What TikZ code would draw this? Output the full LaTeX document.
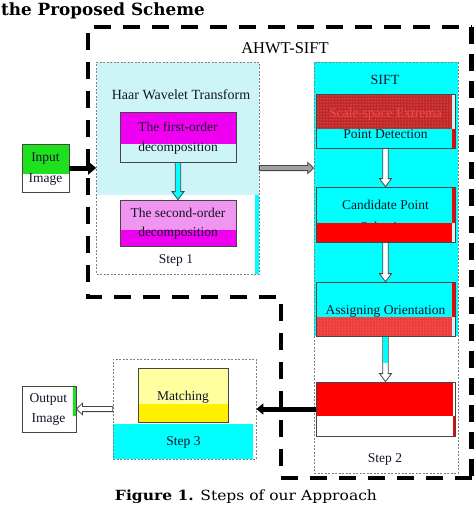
\documentclass[tikz,border=0pt]{standalone}
\usepackage{fontspec}
\setmainfont{Liberation Serif}
\newfontfamily\capfont{DejaVu Serif}
\usetikzlibrary{arrows.meta,calc,patterns}

\definecolor{lcyan}{RGB}{205,245,248}
\definecolor{cyn}{RGB}{0,255,255}
\definecolor{mag}{RGB}{240,0,240}
\definecolor{lmag}{RGB}{240,150,240}
\definecolor{dred}{RGB}{190,40,40}
\definecolor{tred}{RGB}{255,70,70}
\definecolor{rd}{RGB}{255,0,0}
\definecolor{dotred}{RGB}{238,60,60}
\definecolor{pinkdot}{RGB}{255,150,150}
\definecolor{grn}{RGB}{30,225,30}
\definecolor{lyel}{RGB}{255,255,160}
\definecolor{yel}{RGB}{255,240,0}
\definecolor{edge}{RGB}{70,70,70}
\definecolor{arrgray}{RGB}{160,160,160}
\definecolor{txt}{RGB}{20,20,40}

\newcommand\vdownarrow[3]{%
  \draw[blk, fill=#3] ($(#1.south)+(-2.7,0)$) -- ($(#2.north)+(-2.7,-8)$) -- ($(#2.north)+(-6,-8)$) -- (#2.north) -- ($(#2.north)+(6,-8)$) -- ($(#2.north)+(2.7,-8)$) -- ($(#1.south)+(2.7,0)$) -- cycle;}
\newcommand\hblkarrow[4]{%
  \draw[blk, fill=#3] ($(#1)+(0,-2.6)$) -- ($(#2)+(#4,-2.6)$) -- ($(#2)+(#4,-5.7)$) -- (#2) -- ($(#2)+(#4,5.7)$) -- ($(#2)+(#4,2.6)$) -- ($(#1)+(0,2.6)$) -- cycle;}

\begin{document}
\begin{tikzpicture}[x=1pt,y=-1pt,
  box/.style={draw=edge, line width=0.8pt, inner sep=0pt, rectangle},
  stepbox/.style={draw=gray, line width=0.7pt, dash pattern=on 2pt off 1.5pt, inner sep=0pt, rectangle},
  lbl/.style={font=\fontsize{13.5}{16}\selectfont, text=txt, anchor=base, inner sep=0pt},
  blk/.style={draw=edge, line width=0.8pt, line join=miter},
  thickarr/.style={line width=5pt, -{Triangle[length=8pt,width=13pt]}},
  outline/.style={line width=3.2pt, dash pattern=on 17pt off 12pt}]
\useasboundingbox (0,0) rectangle (474,507);

% title
\node[anchor=base west, inner sep=0pt, font=\capfont\bfseries\fontsize{16.8}{18}\selectfont] (title) at (1,15) {the Proposed Scheme};

% big dashed outline
\draw[outline] (472,478) -- (281,478) -- (281,297) -- (88,297) -- (88,27) -- (472,27);
\draw[line width=5pt, dash pattern=on 17pt off 10pt] (471.5,27) -- (471.5,478);
\node[inner sep=0pt, anchor=base, font=\fontsize{16.5}{18}\selectfont] (ahwt) at (285,53) {AHWT-SIFT};

% ---------- Step 1 ----------
\fill[lcyan] (96.5,62) rectangle (259,195);
\fill[cyn] (254.5,195) rectangle (259,274);
\node[stepbox, minimum width=162.5pt, minimum height=212pt] (step1) at (177.75,168) {};
\node[lbl, font=\fontsize{14}{16}\selectfont] (haar) at (181,99) {Haar Wavelet Transform};

\fill[mag] (120,112) rectangle (236,144);
\fill[lcyan] (120,144) rectangle (236,162);
\node[lbl] (fo1) at (178,131) {The first-order};
\node[lbl] (fo2) at (178,151.5) {decomposition};
\node[box, minimum width=116pt, minimum height=50pt] (fo) at (178,137) {};

\fill[lmag] (120,200) rectangle (236,230);
\fill[mag] (120,230) rectangle (236,246);
\node[lbl] (so1) at (178,217) {The second-order};
\node[lbl] (so2) at (178,236) {decomposition};
\node[box, minimum width=116pt, minimum height=46pt] (so) at (178,223) {};
\node[lbl] (st1) at (176,263) {Step 1};

\vdownarrow{fo}{so}{cyn}

% ---------- Input ----------
\fill[grn] (22,144) rectangle (69,174);
\fill[white] (22,174) rectangle (69,192);
\node[lbl] (in1) at (45.5,161) {Input};
\node[lbl] (in2) at (45.5,182) {Image};
\node[box, minimum width=47pt, minimum height=48pt] (inp) at (45.5,168) {};

% ---------- Step 2 (SIFT) ----------
\fill[cyn] (314,62) rectangle (458,336);
\node[stepbox, minimum width=144pt, minimum height=411pt] (sift) at (386,267.5) {};
\node[lbl, font=\fontsize{14}{16}\selectfont] (siftt) at (385,84) {SIFT};

% box 1
\fill[dred] (316,94) rectangle (452,129);
\fill[pattern=dots, pattern color=pinkdot] (316,94) rectangle (452,129);
\fill[lcyan] (452,94) rectangle (455,129);
\fill[cyn] (316,129) rectangle (452,148);
\fill[rd] (452,129) rectangle (455,148);
\node[lbl, text=tred] (b1a) at (385.5,117.5) {Scale-space Extrema};
\node[lbl] (b1b) at (385.5,138.5) {Point Detection};
\node[box, minimum width=139pt, minimum height=54pt] (b1) at (385.5,121) {};

% box 2
\fill[cyn] (316,187) rectangle (452,223);
\fill[rd] (452,187) rectangle (455,223);
\node[lbl] (b2a) at (385.5,209.5) {Candidate Point};
\node[lbl] (b2b) at (385.5,231.5) {Selection};
\fill[rd] (316,223) rectangle (452,242);
\fill[lcyan] (452,223) rectangle (455,242);
\node[box, minimum width=139pt, minimum height=55pt] (b2) at (385.5,214.5) {};

% box 3
\fill[cyn] (316,282) rectangle (452,317);
\fill[rd] (452,282) rectangle (455,317);
\fill[dotred] (316,317) rectangle (452,336);
\fill[pattern=dots, pattern color=pinkdot] (316,317) rectangle (452,336);
\fill[lcyan] (452,317) rectangle (455,336);
\node[lbl] (b3a) at (385.5,314) {Assigning Orientation};
\node[box, minimum width=139pt, minimum height=54pt] (b3) at (385.5,309) {};

% box 4
\fill[rd] (316,382) rectangle (453,416);
\fill[white] (316,416) rectangle (453,436);
\fill[rd] (453,416) rectangle (455,436);
\node[box, minimum width=139pt, minimum height=54pt] (b4) at (385.5,409) {};
\node[lbl] (st2) at (385,462) {Step 2};

\vdownarrow{b1}{b2}{white}
\vdownarrow{b2}{b3}{white}
\vdownarrow{b3}{b4}{white}
\fill[cyn] ($(b3.south)+(-2.3,0.6)$) rectangle ($(b3.south)+(2.3,27)$);

% ---------- Step 3 ----------
\fill[cyn] (113,424) rectangle (253,459);
\node[stepbox, minimum width=143pt, minimum height=100pt] (step3) at (184.5,409) {};
\fill[lyel] (138,368) rectangle (228,404);
\fill[yel] (138,404) rectangle (228,422);
\node[lbl] (mt) at (183,400) {Matching};
\node[box, minimum width=90pt, minimum height=54pt] (match) at (183,395) {};
\node[lbl] (st3) at (183.5,445) {Step 3};

% ---------- Output ----------
\fill[white] (22,386) rectangle (76,432);
\fill[grn] (73,386) rectangle (76,416);
\node[lbl] (ou1) at (48.5,402) {Output};
\node[lbl] (ou2) at (48.5,422) {Image};
\node[box, minimum width=54pt, minimum height=46pt] (outp) at (49,409) {};

% ---------- connectors ----------
\draw[thickarr] (inp.east) -- (inp.east -| step1.west);
\coordinate (g1) at (step1.east);
\coordinate (g2) at (step1.east -| sift.west);
\hblkarrow{g1}{g2}{arrgray}{-6}
\draw[thickarr, -{Triangle[length=7pt,width=11pt]}] (b4.west) -- (step3.east);
\coordinate (o1) at (step3.west);
\coordinate (o2) at (outp.east);
\hblkarrow{o1}{o2}{white}{6}

% caption
\node[anchor=base, inner sep=0pt, font=\capfont\fontsize{14}{16}\selectfont] (cap) at (246,500) {\scalebox{1.11}[1]{\textbf{Figure 1.} Steps of our Approach}};
\end{tikzpicture}
\end{document}
